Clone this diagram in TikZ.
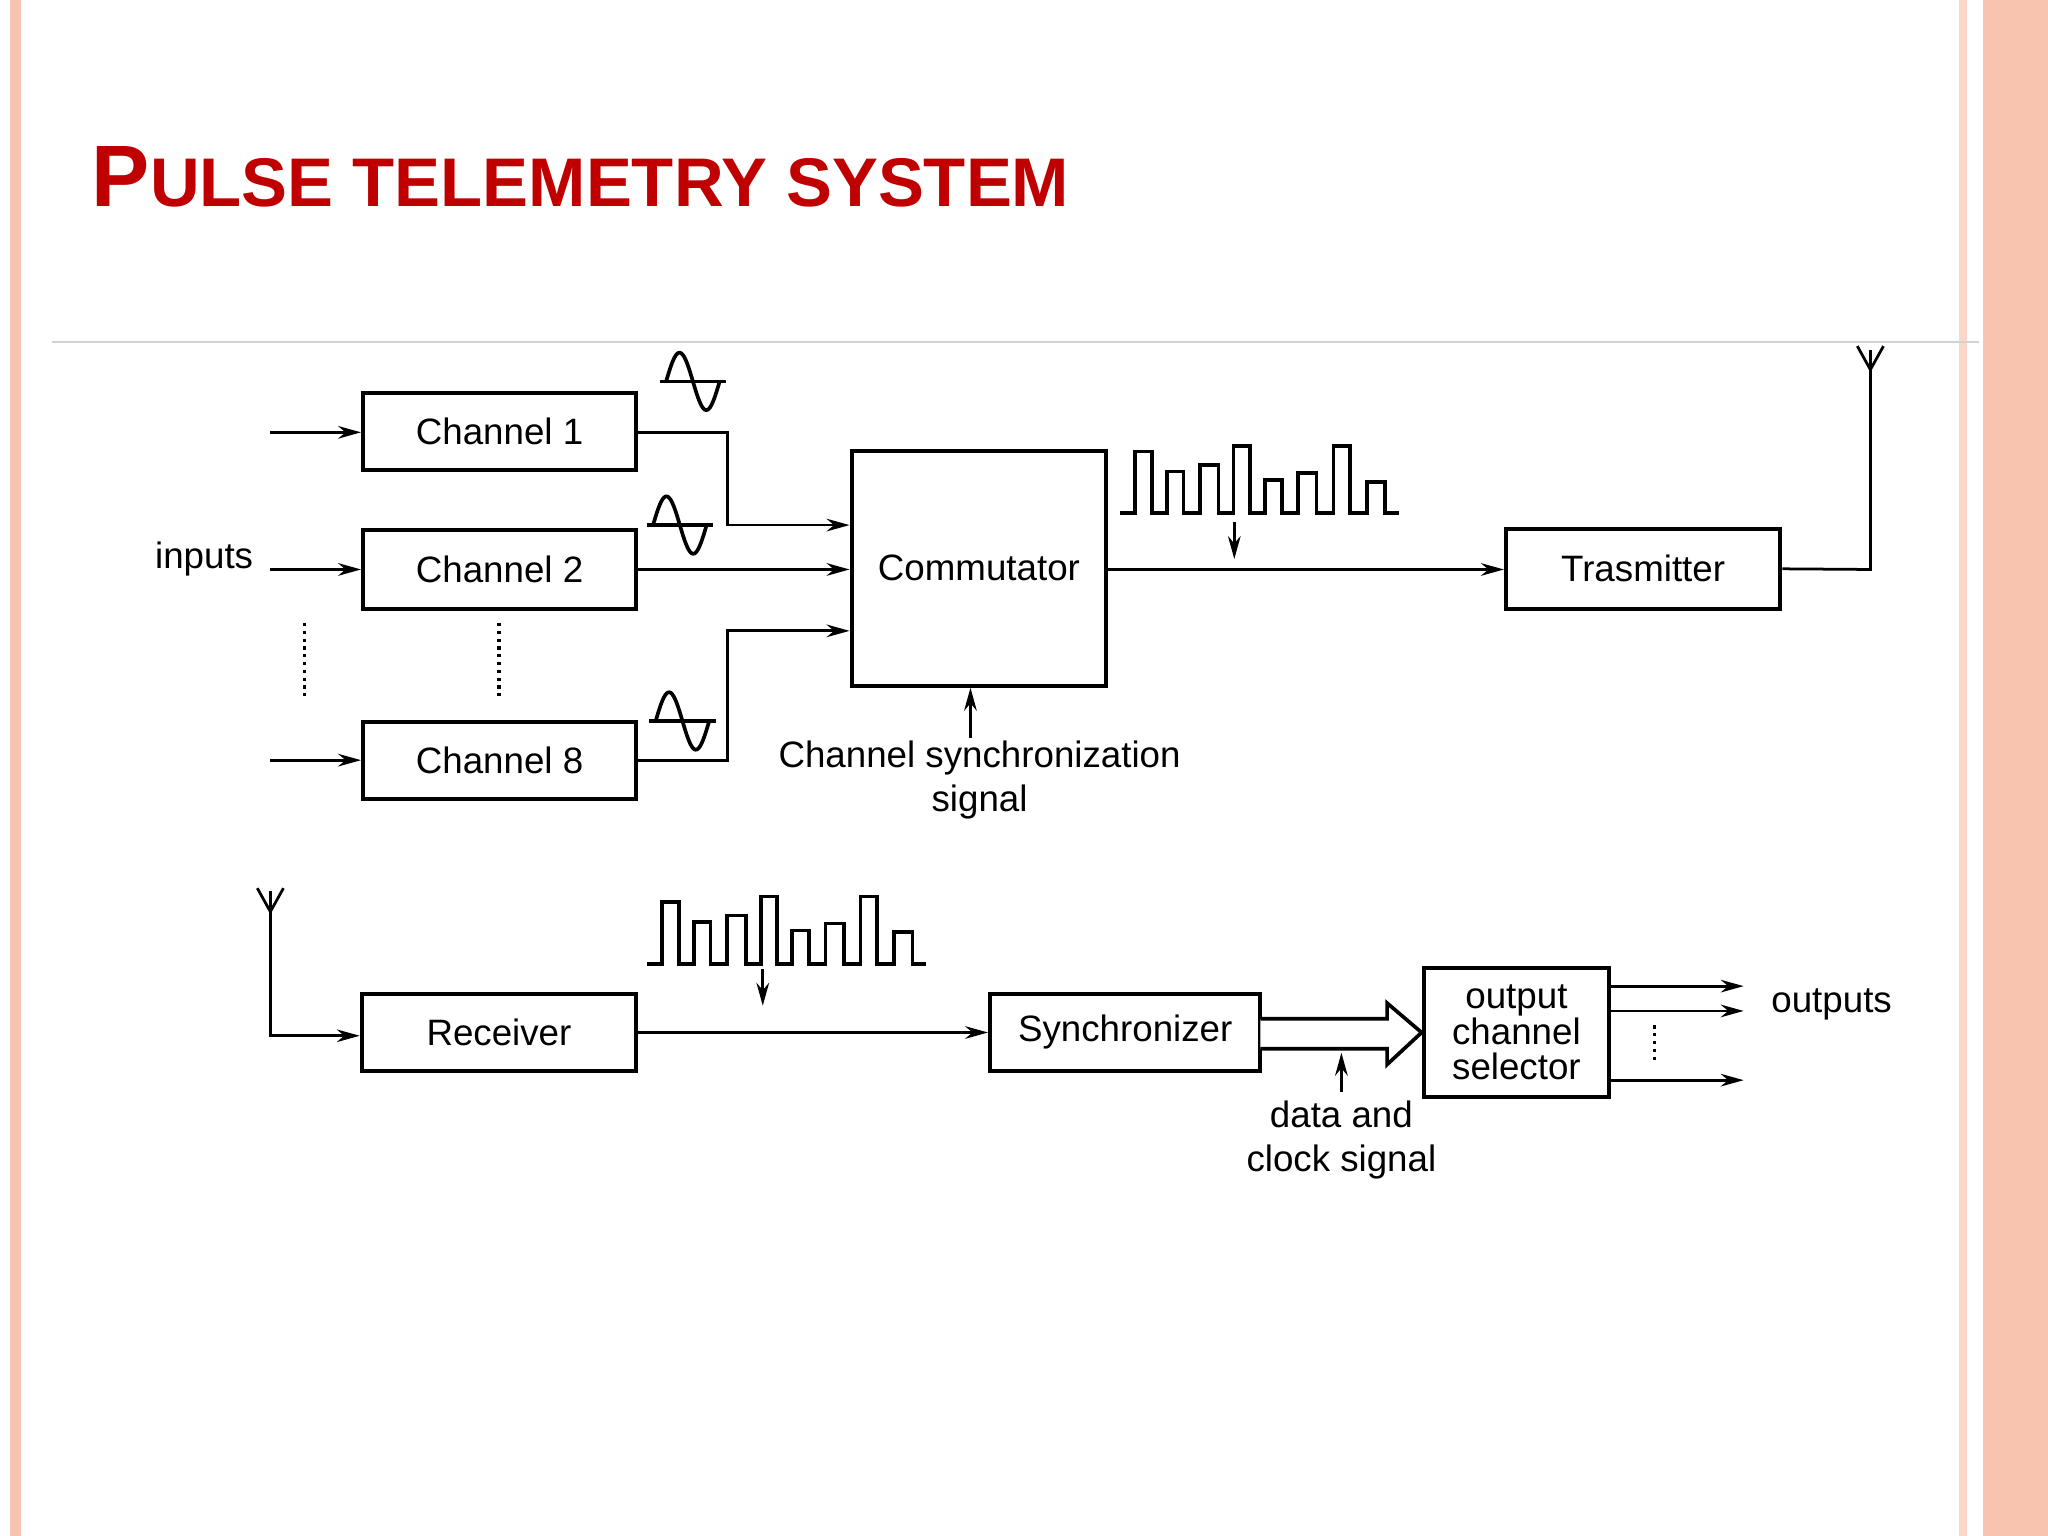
\documentclass[tikz,border=0pt]{standalone}
\usepackage{fontspec}
\setmainfont{Liberation Sans}
\usetikzlibrary{arrows.meta}
\definecolor{titlered}{RGB}{192,0,0}
\definecolor{stripe}{RGB}{248,196,176}
\definecolor{stripel}{RGB}{250,215,200}
\begin{document}
\begin{tikzpicture}[x=0.02cm,y=-0.02cm,
  blk/.style={draw,line width=1.8pt,inner sep=0pt,font=\fontsize{16}{18}\selectfont},
  ar/.style={line width=1.2pt,-{Stealth[length=10pt,width=5.5pt]}},
  ln/.style={line width=1.2pt},
  lbl/.style={font=\fontsize{16}{19}\selectfont,align=center},
  wave/.style={line width=1.6pt}]
\useasboundingbox (0,0) rectangle (1568,1176);
\fill[white] (0,0) rectangle (1568,1176);
\fill[stripe] (8,0) rectangle (16,1176);
\fill[stripel] (1500,0) rectangle (1506,1176);
\fill[stripe] (1518,0) rectangle (1568,1176);
\draw[gray!35,line width=0.8pt] (40,262) -- (1515,262);
\node[anchor=base west,inner sep=0pt,text=titlered,font=\bfseries] (title) at (70,158)
  {\fontsize{38}{44}\selectfont P\fontsize{30}{36}\selectfont ULSE TELEMETRY SYSTEM};
% boxes
\node[blk,minimum width=4.18cm,minimum height=1.18cm] (c1) at (382.5,330.5) {Channel 1};
\node[blk,minimum width=4.18cm,minimum height=1.2cm] (c2) at (382.5,436) {Channel 2};
\node[blk,minimum width=4.18cm,minimum height=1.18cm] (c8) at (382.5,582.5) {Channel 8};
\node[blk,minimum width=3.9cm,minimum height=3.6cm] (com) at (749.5,435) {Commutator};
\node[blk,minimum width=4.2cm,minimum height=1.22cm] (tx) at (1258,435.5) {Trasmitter};
\node[blk,minimum width=4.2cm,minimum height=1.18cm] (rx) at (382,790.5) {Receiver};
\node[blk,minimum width=4.14cm,minimum height=1.18cm] (syn) at (861.5,790.5) {Synchronizer};
\node[blk,minimum width=2.84cm,minimum height=1.98cm,align=center,font=\fontsize{16}{15.5}\selectfont] (sel) at (1161,790.5) {output\\channel\\selector};
% inputs
\node[lbl,anchor=east] (inp) at (200,428) {inputs};
\coordinate (i1) at (207,331); \coordinate (i2) at (207,436); \coordinate (i8) at (207,582);
\draw[ar] (i1) -- (c1.west |- i1);
\draw[ar] (i2) -- (c2.west |- i2);
\draw[ar] (i8) -- (c8.west |- i8);
\draw[line width=1.4pt,dotted] (233,477) -- (233,535);
\draw[line width=1.4pt,dotted] (382,477) -- (382,535);
% channel to commutator
\draw[ar] (c1.east |- 0,331) -- (557,331) -- (557,402) -- (com.west |- 0,402);
\draw[ar] (c2.east) -- (com.west |- c2.east);
\draw[ar] (c8.east |- 0,582) -- (557,582) -- (557,483) -- (com.west |- 0,483);
% sines
\foreach \sx/\sy in {505/292,495/402,497/552}{
  \draw[wave] (\sx,\sy) -- (\sx+51,\sy);
  \draw[wave,domain=0:360,samples=40,smooth] plot ({\sx+5+\x/360*41},{\sy-22*sin(\x)});
}
% commutator to transmitter
\draw[ar] (com.east |- 0,436) -- (tx.west |- 0,436);
\coordinate (pa1) at (945,400); \draw[ar] (pa1) -- (945,428);
\draw[wave] (857.6,393) -- (869,393) -- (869,345.8) -- (882,345.8) -- (882,393)
 -- (893.3,393) -- (893.3,361) -- (906,361) -- (906,393)
 -- (918.8,393) -- (918.8,356) -- (933,356) -- (933,393)
 -- (944.5,393) -- (944.5,341.5) -- (957,341.5) -- (957,393)
 -- (968.6,393) -- (968.6,367.5) -- (981.5,367.5) -- (981.5,393)
 -- (994,393) -- (994,362) -- (1008,362) -- (1008,393)
 -- (1020.9,393) -- (1020.9,341.5) -- (1033.6,341.5) -- (1033.6,393)
 -- (1046.4,393) -- (1046.4,368.8) -- (1060.6,368.8) -- (1060.6,393) -- (1070.8,393);
% sync
\coordinate (cs) at (743,565);
\draw[ar] (cs) -- (com.south -| cs);
\node[lbl] (cst) at (750,597) {Channel synchronization\\signal};
% antenna tx
\coordinate (ant1) at (1432,268);
\draw[ln] (tx.east) -- (1432,436) -- (ant1);
\draw[ln] (1422,265) -- (1432,283) -- (1442,265);
% receiver antenna
\coordinate (ant2) at (207,682);
\draw[ln] (197,680) -- (207,698) -- (217,680);
\draw[ar] (ant2) -- (207,793) -- (rx.west |- 0,793);
\draw[ar] (rx.east) -- (syn.west);
\coordinate (pa2) at (584,742); \draw[ar] (pa2) -- (584,770);
\begin{scope}[shift={(-362,345)}]
\draw[wave] (857.6,393) -- (869,393) -- (869,345.8) -- (882,345.8) -- (882,393)
 -- (893.3,393) -- (893.3,361) -- (906,361) -- (906,393)
 -- (918.8,393) -- (918.8,356) -- (933,356) -- (933,393)
 -- (944.5,393) -- (944.5,341.5) -- (957,341.5) -- (957,393)
 -- (968.6,393) -- (968.6,367.5) -- (981.5,367.5) -- (981.5,393)
 -- (994,393) -- (994,362) -- (1008,362) -- (1008,393)
 -- (1020.9,393) -- (1020.9,341.5) -- (1033.6,341.5) -- (1033.6,393)
 -- (1046.4,393) -- (1046.4,368.8) -- (1060.6,368.8) -- (1060.6,393) -- (1070.8,393);
\end{scope}
% hollow arrow
\draw[line width=1.6pt,fill=white] (965,780) -- (1062,780) -- (1062,768) -- (sel.west) -- (1062,815) -- (1062,803) -- (965,803);
\coordinate (dc) at (1027,836);
\draw[ar] (dc) -- (1027,806);
\node[lbl] (dct) at (1027,873) {data and\\clock signal};
% outputs
\foreach \yy in {755,774,827}{
  \coordinate (o\yy) at (1335,\yy);
  \draw[ar] (sel.east |- 0,\yy) -- (o\yy);
}
\draw[line width=1.4pt,dotted] (1267,785) -- (1267,812);
\node[lbl,anchor=west] (outt) at (1350,769) {outputs};
\end{tikzpicture}
\end{document}
